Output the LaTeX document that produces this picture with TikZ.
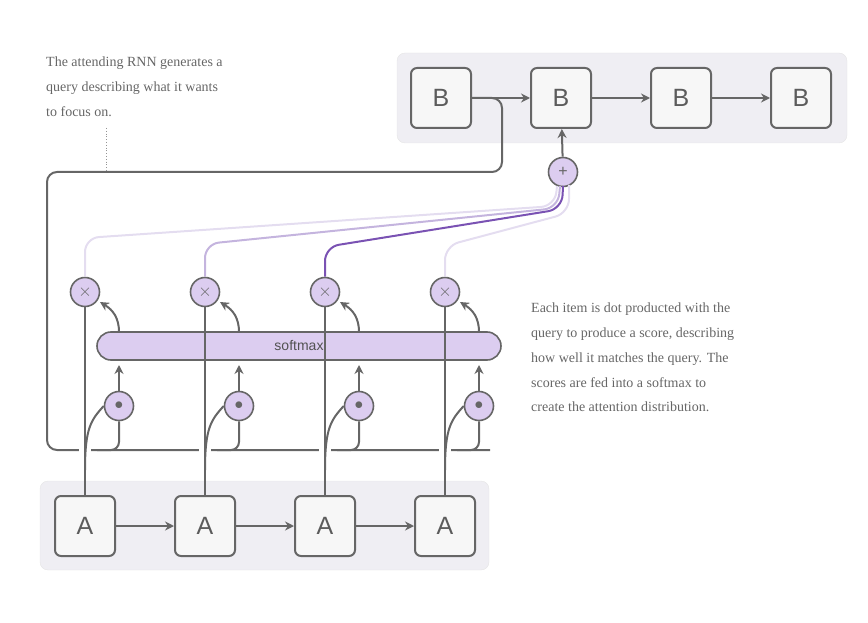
\documentclass[tikz,border=0pt]{standalone}
\usepackage{fontspec}
\setmainfont{Liberation Serif}
\newfontfamily\sansf{Liberation Sans}
\usetikzlibrary{arrows.meta}
\definecolor{ln}{HTML}{666666}
\definecolor{bgc}{HTML}{EFEEF3}
\definecolor{bx}{HTML}{F7F7F7}
\definecolor{pu}{HTML}{DCCDF0}
\definecolor{c1}{HTML}{E4DDF0}
\definecolor{c2}{HTML}{C4B4DE}
\definecolor{c3}{HTML}{7A52B3}
\begin{document}
\begin{tikzpicture}[x=1pt,y=-1pt,
 bg/.style={fill=bgc,draw=black!10,rounded corners=8pt},
 box/.style={draw=ln,line width=2pt,fill=bx,rounded corners=6pt,minimum size=60pt,inner sep=0pt,font=\sansf\fontsize{25}{25}\selectfont,text=ln!90!black},
 op/.style={circle,draw=ln,line width=1.6pt,fill=pu,minimum size=29pt,inner sep=0pt,font=\sansf\fontsize{16}{16}\selectfont,text=ln},
 con/.style={draw=ln,line width=2pt},
 arr/.style={con,-{Stealth[length=9pt,width=9pt]}},
 txt/.style={font=\fontsize{14}{24.7}\selectfont,text=ln,align=left,anchor=north west,inner sep=0pt}]
\useasboundingbox (0,0) rectangle (868,623);
\fill[bg] (397,53) rectangle (847,143);
\fill[bg] (40,481) rectangle (489,570);
\foreach \i/\x in {1/441,2/561,3/681,4/801} \node[box] (b\i) at (\x,98) {B};
\foreach \i/\x in {1/85,2/205,3/325,4/445} \node[box] (a\i) at (\x,526) {A};
\draw[arr] (b2) -- (b3); \draw[arr] (b3) -- (b4);
\draw[arr] (a1) -- (a2); \draw[arr] (a2) -- (a3); \draw[arr] (a3) -- (a4);
\node[draw=ln,line width=1.6pt,fill=pu,rounded corners=14pt,minimum width=404pt,minimum height=28pt,font=\sansf\fontsize{14}{14}\selectfont,text=ln!80!black] (sm) at (299,346) {softmax};
\node[op] (pl) at (563,172) {+};
\draw[con,rounded corners=10pt] (b1.east) -- (502,98) -- (502,172) -- (47,172) -- (47,450) -- (490,450);
\draw[arr] (b1.east) -- (b2.west);
\foreach \i/\x/\c in {1/85/c1,2/205/c2,3/325/c3,4/445/c1}{
  \node[op] (m\i) at (\x,292) {$\times$};
  \node[op] (d\i) at (\x+34,406) {$\bullet$};
  \fill[white] (\x-6,446) rectangle (\x+6,454);
  \draw[con] (a\i.north) -- (m\i.south);
  \draw[con] (\x,470) .. controls (\x,428) and (\x+6,420) .. (d\i.west);
  \draw[con,rounded corners=8pt] (d\i.south) -- (\x+34,450) -- (\x+12,450);
  \draw[arr] (d\i.north) -- (\x+34,365);
  \draw[arr] (\x+34,332) .. controls (\x+34,318) and (\x+28,310) .. (\x+15,302);
}
\draw[c1,line width=2pt,rounded corners=14pt] (m1.north) -- (85,238) -- (555,206) -- (557,186);
\draw[c2,line width=2pt,rounded corners=14pt] (m2.north) -- (205,244) -- (558,208) -- (560,186);
\draw[c3,line width=2pt,rounded corners=14pt] (m3.north) -- (325,247) -- (562,209) -- (563,186);
\draw[c1,line width=2pt,rounded corners=14pt] (m4.north) -- (445,246) -- (569,213) -- (569,185);
\draw[arr] (pl) -- (b2);
\node[txt] (t1) at (46,57) {The attending RNN generates a\\query describing what it wants\\to focus on.};
\coordinate (t1e) at (106,172);
\draw[ln!70,dotted,line width=0.8pt] (106,128) -- (t1e);
\node[txt] (t2) at (531,303) {Each item is dot producted with the\\query to produce a score, describing\\how well it matches the query. The\\scores are fed into a softmax to\\create the attention distribution.};
\end{tikzpicture}
\end{document}
